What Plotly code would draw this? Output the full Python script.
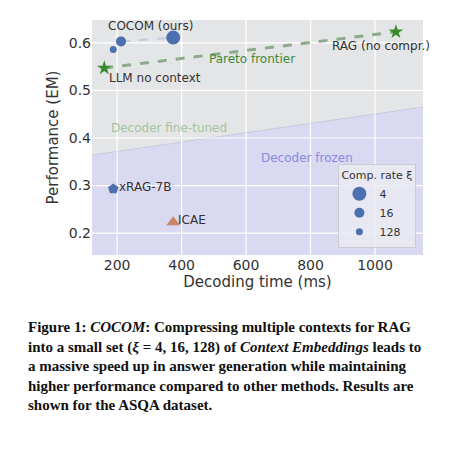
import plotly.graph_objects as go

cocom_x = [188, 212, 374]
cocom_y = [0.586, 0.603, 0.611]
cocom_rate = ["128", "16", "4"]
cocom_size = [7, 10, 14]
pareto_x = [160, 1065]
pareto_y = [0.547, 0.623]
xrag = (188, 0.293)
icae = (374, 0.223)
boundary_x = [122, 1149]
boundary_y = [0.364, 0.465]
xr = [122, 1149]
yr = [0.154, 0.648]

fig = go.Figure()
fig.add_trace(go.Scatter(x=[xr[0], xr[1], xr[1], xr[0]], y=[yr[1], yr[1], boundary_y[1], boundary_y[0]],
    fill="toself", fillcolor="#e4e5e7", line=dict(width=0), mode="lines", showlegend=False, hoverinfo="skip"))
fig.add_trace(go.Scatter(x=[xr[0], xr[1], xr[1], xr[0]], y=[boundary_y[0], boundary_y[1], yr[0], yr[0]],
    fill="toself", fillcolor="#d9d9f1", line=dict(width=0), mode="lines", showlegend=False, hoverinfo="skip"))
fig.add_trace(go.Scatter(x=boundary_x, y=boundary_y, mode="lines", line=dict(color="#c8c8dc", width=1), showlegend=False))
for gx in [200, 400, 600, 800, 1000]:
    fig.add_trace(go.Scatter(x=[gx, gx], y=yr, mode="lines", line=dict(color="white", width=1.2), showlegend=False, hoverinfo="skip"))
for gy in [0.2, 0.3, 0.4, 0.5, 0.6]:
    fig.add_trace(go.Scatter(x=xr, y=[gy, gy], mode="lines", line=dict(color="white", width=1.2), showlegend=False, hoverinfo="skip"))

fig.add_trace(go.Scatter(x=pareto_x, y=pareto_y, mode="lines", line=dict(color="#8daa8d", width=3, dash="dash"), showlegend=False))
fig.add_trace(go.Scatter(x=cocom_x[1:], y=cocom_y[1:], mode="lines", line=dict(color="#c5cbe0", width=2, dash="dash"), showlegend=False))
for r, s in [("4", 14), ("16", 10), ("128", 7)]:
    i = cocom_rate.index(r)
    fig.add_trace(go.Scatter(x=[cocom_x[i]], y=[cocom_y[i]], mode="markers", name=r,
        marker=dict(color="#4c6faf", size=s)))
fig.add_trace(go.Scatter(x=pareto_x, y=pareto_y, mode="markers", marker=dict(symbol="star", color="#3a8a2e", size=11), showlegend=False))
fig.add_trace(go.Scatter(x=[xrag[0]], y=[xrag[1]], mode="markers", marker=dict(symbol="pentagon", color="#4c6faf", size=11), showlegend=False))
fig.add_trace(go.Scatter(x=[icae[0]], y=[icae[1]], mode="markers", marker=dict(symbol="triangle-up", color="#c98864", size=12), showlegend=False))

f = "DejaVu Sans"
def ann(x, y, t, c="#333", sz=12, xa="left"):
    fig.add_annotation(x=x, y=y, text=t, showarrow=False, xanchor=xa, font=dict(family=f, size=sz, color=c))
ann(165, 0.635, "COCOM (ours)")
ann(170, 0.527, "LLM no context")
ann(1018, 0.593, "RAG (no compr.)", xa="center")
ann(480, 0.567, "Pareto frontier", c="#3f8a3a")
ann(175, 0.42, "Decoder fine-tuned", c="#a4c3a0")
ann(640, 0.358, "Decoder frozen", c="#8a8ae0")
ann(200, 0.297, "xRAG-7B")
ann(383, 0.227, "ICAE")

cap = ("Figure 1: <i>COCOM</i>: Compressing multiple contexts for RAG<br>"
       "into a small set (<i>ξ</i> = 4, 16, 128) of <i>Context Embeddings</i> leads to<br>"
       "a massive speed up in answer generation while maintaining<br>"
       "higher performance compared to other methods. Results are<br>"
       "shown for the ASQA dataset.")
fig.add_annotation(xref="paper", yref="paper", x=-0.2, y=-0.265, xanchor="left", yanchor="top", align="left",
    text="<b>" + cap + "</b>", showarrow=False, font=dict(family="Liberation Serif", size=15, color="#111"))

fig.update_layout(width=474, height=462, margin=dict(l=84, r=59, t=12, b=215),
    paper_bgcolor="white", plot_bgcolor="#e4e5e7", font=dict(family=f, color="#333"),
    legend=dict(x=0.98, y=0.03, xanchor="right", yanchor="bottom", bgcolor="rgba(234,234,242,0.85)",
        bordercolor="#cccccc", borderwidth=1, title=dict(text="Comp. rate ξ", font=dict(size=11)), font=dict(size=11)),
    xaxis=dict(range=xr, showgrid=False, zeroline=False, tickvals=[200,400,600,800,1000], ticks="",
        title=dict(text="Decoding time (ms)", font=dict(size=15, color="#333"), standoff=4), tickfont=dict(size=14)),
    yaxis=dict(range=yr, showgrid=False, zeroline=False, tickvals=[0.2,0.3,0.4,0.5,0.6], tickformat=".1f",
        title=dict(text="Performance (EM)", font=dict(size=15, color="#333"), standoff=6), tickfont=dict(size=14)))
fig.write_html("out.html")
